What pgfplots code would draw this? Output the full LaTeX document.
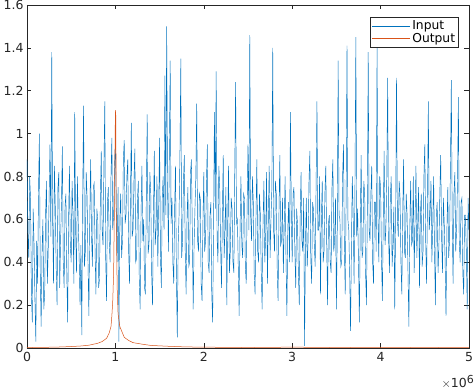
\documentclass[border=0pt]{standalone}
\usepackage{pgfplots}
\pgfplotsset{compat=1.18}
\usepackage{fontspec}
\setmainfont{DejaVu Sans}
\definecolor{mblue}{rgb}{0,0.447,0.741}
\definecolor{morange}{rgb}{0.85,0.325,0.098}
\definecolor{axgray}{rgb}{0.15,0.15,0.15}
\begin{document}
\begin{tikzpicture}
\begin{axis}[
  at={(0,0)}, anchor=south west,
  scale only axis, width=442pt, height=343pt,
  xmin=0, xmax=5e6, ymin=0, ymax=1.6,
  xtick={0,1e6,2e6,3e6,4e6,5e6},
  xticklabels={0,1,2,3,4,5},
  scaled x ticks=false,
  ytick={0,0.2,0.4,0.6,0.8,1,1.2,1.4,1.6},
  yticklabels={0,0.2,0.4,0.6,0.8,1,1.2,1.4,1.6},
  tick align=inside, tick pos=both,
  major tick length=4.5pt,
  axis line style={axgray, line width=0.5pt},
  every tick/.style={axgray, line width=0.5pt},
  tick label style={font=\fontsize{12.5}{15}\selectfont, text=axgray},
  xticklabel style={yshift=-1pt},
  legend style={at={(rel axis cs:0.977,0.965)}, anchor=north east, draw=axgray, line width=0.5pt,
    font=\fontsize{12.3}{14}\selectfont, inner sep=1.5pt, row sep=-2pt, cells={anchor=west}},
  legend image code/.code={\draw[#1, line width=0.6pt] (0pt,0pt) -- (38pt,0pt);},
  clip mode=individual,
]
\addplot[mblue, line width=0.45pt] coordinates {
(0,0.88) (1e4,0.55) (2e4,0.42) (3e4,0.80) (4e4,0.70) (5e4,0.25) (6e4,0.12) (7e4,0.65) (8e4,0.48) (9e4,0.22)
(10e4,0.03) (11e4,0.50) (12e4,0.30) (13e4,0.72) (14e4,1.00) (15e4,0.35) (16e4,0.10) (17e4,0.45) (18e4,0.60) (19e4,0.18)
(20e4,0.25) (21e4,0.62) (22e4,0.78) (23e4,0.30) (24e4,0.45) (25e4,0.70) (26e4,0.95) (27e4,0.52) (28e4,1.38) (29e4,0.60)
(30e4,0.30) (31e4,0.85) (32e4,0.66) (33e4,0.38) (34e4,0.20) (35e4,0.75) (36e4,0.82) (37e4,0.28) (38e4,0.50) (39e4,0.68)
(40e4,0.94) (41e4,0.40) (42e4,0.28) (43e4,0.66) (44e4,0.72) (45e4,0.35) (46e4,0.12) (47e4,0.58) (48e4,0.85) (49e4,0.48)
(50e4,0.40) (51e4,0.78) (52e4,0.62) (53e4,0.30) (54e4,1.10) (55e4,0.55) (56e4,0.35) (57e4,0.80) (58e4,0.58) (59e4,0.42)
(60e4,0.20) (61e4,0.48) (62e4,0.06) (63e4,0.70) (64e4,1.13) (65e4,0.38) (66e4,0.45) (67e4,0.82) (68e4,0.70) (69e4,0.40)
(70e4,0.15) (71e4,0.60) (72e4,0.88) (73e4,0.52) (74e4,0.38) (75e4,0.75) (76e4,0.77) (77e4,0.45) (78e4,0.25) (79e4,0.65)
(80e4,0.60) (81e4,0.28) (82e4,0.32) (83e4,0.70) (84e4,0.92) (85e4,0.55) (86e4,0.48) (87e4,0.85) (88e4,1.15) (89e4,0.42)
(90e4,0.22) (91e4,0.68) (92e4,0.75) (93e4,0.50) (94e4,0.40) (95e4,0.80) (96e4,0.98) (97e4,0.55) (98e4,0.62) (99e4,0.85)
(100e4,0.95) (101e4,0.65) (102e4,0.40) (103e4,0.75) (104e4,0.03) (105e4,0.60) (106e4,0.72) (107e4,0.42) (108e4,0.50) (109e4,0.88)
(110e4,0.97) (111e4,0.58) (112e4,0.62) (113e4,0.80) (114e4,0.88) (115e4,0.45) (116e4,0.30) (117e4,0.68) (118e4,1.05) (119e4,0.52)
(120e4,0.55) (121e4,0.78) (122e4,0.93) (123e4,0.40) (124e4,0.42) (125e4,0.70) (126e4,0.78) (127e4,0.32) (128e4,0.18) (129e4,0.62)
(130e4,0.85) (131e4,0.50) (132e4,0.60) (133e4,0.28) (134e4,0.25) (135e4,0.72) (136e4,1.09) (137e4,0.44) (138e4,0.48) (139e4,0.82)
(140e4,0.72) (141e4,0.35) (142e4,0.20) (143e4,0.60) (144e4,0.92) (145e4,0.48) (146e4,0.55) (147e4,0.80) (148e4,0.38) (149e4,0.66)
(150e4,0.98) (151e4,0.42) (152e4,0.28) (153e4,0.70) (154e4,0.80) (155e4,0.55) (156e4,1.27) (157e4,0.62) (158e4,1.50) (159e4,0.75)
(160e4,0.45) (161e4,0.90) (162e4,1.34) (163e4,0.58) (164e4,0.70) (165e4,0.40) (166e4,0.30) (167e4,0.65) (168e4,0.85) (169e4,0.35)
(170e4,0.05) (171e4,0.48) (172e4,0.62) (173e4,0.90) (174e4,1.35) (175e4,0.42) (176e4,0.50) (177e4,0.78) (178e4,0.90) (179e4,0.45)
(180e4,0.25) (181e4,0.60) (182e4,0.75) (183e4,0.38) (184e4,0.40) (185e4,0.82) (186e4,0.88) (187e4,0.55) (188e4,0.18) (189e4,0.48)
(190e4,0.65) (191e4,0.80) (192e4,1.14) (193e4,0.50) (194e4,0.45) (195e4,0.72) (196e4,0.70) (197e4,0.30) (198e4,0.22) (199e4,0.58)
(200e4,0.82) (201e4,0.45) (202e4,0.50) (203e4,0.78) (204e4,0.95) (205e4,0.40) (206e4,0.35) (207e4,0.62) (208e4,0.68) (209e4,0.25)
(210e4,0.12) (211e4,0.55) (212e4,1.10) (213e4,0.65) (214e4,1.29) (215e4,0.52) (216e4,0.40) (217e4,0.85) (218e4,0.75) (219e4,0.48)
(220e4,0.28) (221e4,0.62) (222e4,0.90) (223e4,0.42) (224e4,0.55) (225e4,0.75) (226e4,0.20) (227e4,0.58) (228e4,0.85) (229e4,0.35)
(230e4,0.45) (231e4,0.70) (232e4,0.65) (233e4,0.40) (234e4,0.35) (235e4,0.82) (236e4,1.24) (237e4,0.58) (238e4,0.60) (239e4,0.38)
(240e4,0.15) (241e4,0.55) (242e4,0.80) (243e4,0.48) (244e4,0.42) (245e4,0.72) (246e4,0.70) (247e4,0.38) (248e4,0.30) (249e4,0.66)
(250e4,0.95) (251e4,0.55) (252e4,1.46) (253e4,0.62) (254e4,0.50) (255e4,0.80) (256e4,0.68) (257e4,0.35) (258e4,0.25) (259e4,0.60)
(260e4,0.88) (261e4,0.45) (262e4,0.40) (263e4,0.72) (264e4,0.62) (265e4,0.35) (266e4,0.18) (267e4,0.58) (268e4,0.78) (269e4,0.40)
(270e4,0.52) (271e4,0.82) (272e4,0.30) (273e4,0.60) (274e4,0.85) (275e4,0.42) (276e4,0.60) (277e4,0.75) (278e4,1.40) (279e4,0.55)
(280e4,0.45) (281e4,0.78) (282e4,0.72) (283e4,0.38) (284e4,0.22) (285e4,0.62) (286e4,0.90) (287e4,0.48) (288e4,0.50) (289e4,0.70)
(290e4,0.35) (291e4,0.58) (292e4,0.80) (293e4,0.42) (294e4,0.15) (295e4,0.55) (296e4,0.68) (297e4,0.40) (298e4,1.10) (299e4,0.62)
(300e4,0.40) (301e4,0.72) (302e4,0.75) (303e4,0.45) (304e4,0.28) (305e4,0.65) (306e4,0.58) (307e4,0.35) (308e4,0.20) (309e4,0.60)
(310e4,0.82) (311e4,0.50) (312e4,0.45) (313e4,0.70) (314e4,0.01) (315e4,0.48) (316e4,0.70) (317e4,0.38) (318e4,0.50) (319e4,0.78)
(320e4,0.92) (321e4,0.42) (322e4,0.30) (323e4,0.68) (324e4,0.65) (325e4,0.48) (326e4,0.38) (327e4,0.75) (328e4,1.15) (329e4,0.55)
(330e4,0.55) (331e4,0.80) (332e4,0.25) (333e4,0.60) (334e4,0.78) (335e4,0.40) (336e4,0.45) (337e4,0.72) (338e4,0.85) (339e4,0.50)
(340e4,0.20) (341e4,0.58) (342e4,0.62) (343e4,0.40) (344e4,0.35) (345e4,0.75) (346e4,0.88) (347e4,0.45) (348e4,0.50) (349e4,0.70)
(350e4,0.18) (351e4,0.55) (352e4,1.34) (353e4,0.62) (354e4,0.60) (355e4,0.38) (356e4,0.40) (357e4,0.80) (358e4,0.95) (359e4,0.48)
(360e4,0.25) (361e4,0.70) (362e4,1.41) (363e4,0.60) (364e4,0.55) (365e4,0.35) (366e4,0.08) (367e4,0.48) (368e4,0.80) (369e4,0.62)
(370e4,0.30) (371e4,0.75) (372e4,1.45) (373e4,0.52) (374e4,0.65) (375e4,0.40) (376e4,0.12) (377e4,0.58) (378e4,0.90) (379e4,0.42)
(380e4,0.45) (381e4,0.78) (382e4,0.72) (383e4,0.35) (384e4,0.20) (385e4,0.65) (386e4,1.38) (387e4,0.55) (388e4,0.50) (389e4,0.72)
(390e4,0.85) (391e4,0.40) (392e4,0.30) (393e4,0.68) (394e4,0.68) (395e4,0.45) (396e4,1.40) (397e4,0.62) (398e4,0.40) (399e4,0.80)
(400e4,0.75) (401e4,0.42) (402e4,0.22) (403e4,0.60) (404e4,0.92) (405e4,0.48) (406e4,0.55) (407e4,0.80) (408e4,1.26) (409e4,0.52)
(410e4,0.35) (411e4,0.70) (412e4,0.80) (413e4,0.38) (414e4,0.48) (415e4,0.66) (416e4,0.18) (417e4,0.58) (418e4,1.26) (419e4,0.60)
(420e4,0.52) (421e4,0.78) (422e4,0.70) (423e4,0.40) (424e4,0.25) (425e4,0.62) (426e4,0.88) (427e4,0.45) (428e4,0.42) (429e4,0.72)
(430e4,0.62) (431e4,0.35) (432e4,0.10) (433e4,0.55) (434e4,0.78) (435e4,0.48) (436e4,0.50) (437e4,0.80) (438e4,0.35) (439e4,0.60)
(440e4,0.85) (441e4,0.42) (442e4,0.58) (443e4,0.75) (444e4,0.28) (445e4,0.62) (446e4,0.72) (447e4,0.38) (448e4,0.45) (449e4,0.80)
(450e4,0.95) (451e4,0.50) (452e4,0.30) (453e4,0.66) (454e4,1.15) (455e4,0.55) (456e4,0.62) (457e4,0.78) (458e4,0.40) (459e4,0.58)
(460e4,0.80) (461e4,0.45) (462e4,0.20) (463e4,0.62) (464e4,0.68) (465e4,0.35) (466e4,0.48) (467e4,0.72) (468e4,0.90) (469e4,0.52)
(470e4,0.35) (471e4,0.70) (472e4,0.58) (473e4,0.40) (474e4,0.15) (475e4,0.55) (476e4,0.75) (477e4,0.42) (478e4,0.50) (479e4,0.85)
(480e4,1.25) (481e4,0.60) (482e4,0.30) (483e4,0.72) (484e4,0.82) (485e4,0.45) (486e4,0.55) (487e4,0.78) (488e4,1.17) (489e4,0.50)
(490e4,0.40) (491e4,0.68) (492e4,0.70) (493e4,0.35) (494e4,0.25) (495e4,0.62) (496e4,0.62) (497e4,0.45) (498e4,0.18) (499e4,0.70)
(500e4,0.55)
};
\addlegendentry{Input}
\addplot[morange, line width=0.5pt] coordinates {
(0,0.002) (2e5,0.003) (4e5,0.005) (5e5,0.007) (6e5,0.009) (7e5,0.013) (8e5,0.022)
(8.5e5,0.03) (9e5,0.045) (9.3e5,0.07) (9.5e5,0.10) (9.6e5,0.15) (9.7e5,0.22) (9.8e5,0.35)
(9.9e5,0.7) (1e6,1.11) (1.005e6,1.08) (1.01e6,0.6) (1.02e6,0.28) (1.03e6,0.16) (1.05e6,0.10)
(1.07e6,0.08) (1.1e6,0.05) (1.15e6,0.035) (1.2e6,0.025) (1.3e6,0.018) (1.4e6,0.012)
(1.6e6,0.008) (1.8e6,0.005) (2e6,0.004) (2.5e6,0.002) (3e6,0.004) (3.5e6,0.002)
(4e6,0.003) (4.5e6,0.002) (5e6,0.003)
};
\addlegendentry{Output}
\node[anchor=north east, inner sep=0pt, font=\fontsize{12.5}{15}\selectfont, text=axgray]
  at (rel axis cs:1,0) [xshift=5pt, yshift=-27pt] {$\times$10\raisebox{0.55ex}{\fontsize{11}{13}\selectfont 6}};
\end{axis}
\pgfresetboundingbox
\path (-27pt,-42pt) rectangle (447pt,348pt);
\end{tikzpicture}
\end{document}
